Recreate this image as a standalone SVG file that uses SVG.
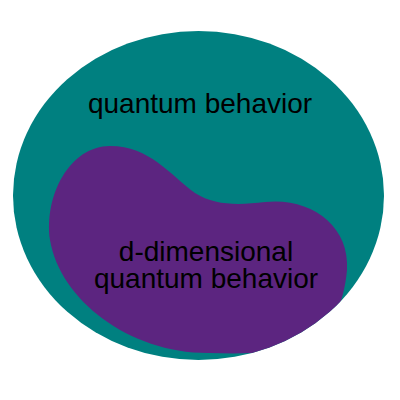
<svg xmlns="http://www.w3.org/2000/svg" width="400" height="400" viewBox="0 0 400 400">
<style>
.lbl{font-family:"Liberation Sans",Arial,sans-serif;font-size:28px;fill:#000;text-anchor:middle}
</style>
<defs>
<clipPath id="oc"><ellipse cx="198.5" cy="195.5" rx="185.5" ry="164.5"/></clipPath>
</defs>
<rect width="400" height="400" fill="#fff"/>
<g id="outer">
<ellipse cx="198.5" cy="195.5" rx="185.5" ry="164.5" fill="#008080"/>
<text class="lbl" x="200" y="113">quantum behavior</text>
</g>
<g id="inner">
<path clip-path="url(#oc)" d="M110,146 C150,146 170,175 195,193 C215,206 240,205 265,202 C310,197 350,225 347,270 C344,305 330,335 305,345 C275,354 240,354 210,353 C130,354 60,300 50,240 C44,195 70,146 110,146 Z" fill="#5c2580"/>
<text class="lbl" x="206" y="261">d-dimensional</text>
<text class="lbl" x="206" y="288">quantum behavior</text>
</g>
</svg>
